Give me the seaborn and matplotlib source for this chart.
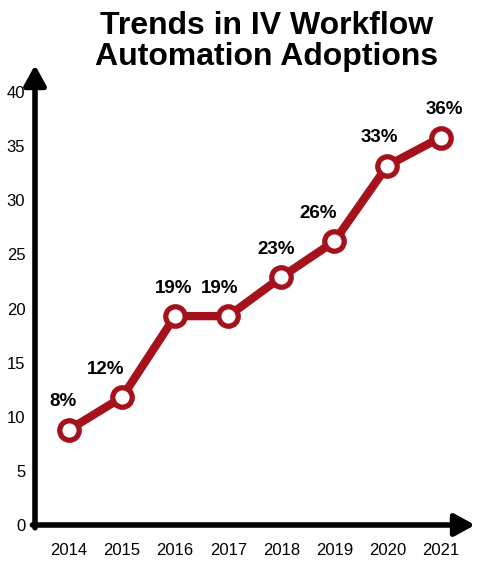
import matplotlib
matplotlib.use("Agg")
import matplotlib.pyplot as plt
import seaborn as sns
import pandas as pd

# Data
years = ["2014", "2015", "2016", "2017", "2018", "2019", "2020", "2021"]
adoption = [8.8, 11.8, 19.3, 19.3, 22.9, 26.2, 33.2, 35.8]
labels = ["8%", "12%", "19%", "19%", "23%", "26%", "33%", "36%"]
yticks = [0, 5, 10, 15, 20, 25, 30, 35, 40]

# small horizontal nudges for the value labels (points)
label_dx = [-4, -12, -1, -6, -4, -12, -6, 3]

df = pd.DataFrame({"year": years, "adoption": adoption})
df["x"] = range(len(df))

sns.set_theme(style="white")
plt.rcParams["font.family"] = ["Liberation Sans Narrow", "Liberation Sans", "DejaVu Sans"]
plt.rcParams["text.color"] = "black"

red = "#A5121C"

fig = plt.figure(figsize=(4.86, 5.66), dpi=100)
ax = fig.add_axes([35 / 486, 1 - 525 / 566, (475 - 35) / 486, (525 - 65) / 566])

sns.lineplot(data=df, x="x", y="adoption", ax=ax, color=red, linewidth=6,
             marker="o", markersize=14, markerfacecolor="white",
             markeredgecolor=red, markeredgewidth=3.8, zorder=3)

for i, (v, lab) in enumerate(zip(adoption, labels)):
    ax.annotate(lab, (i, v), xytext=(label_dx[i], 20), textcoords="offset points",
                ha="center", va="center", fontsize=13.5, fontweight="bold",
                color="black")

ax.set_xlim(-0.64, 7.65)
ax.set_ylim(0, 42.5)
ax.set_xticks(df["x"])
ax.set_xticklabels(years)
ax.set_yticks(yticks)
ax.set_xlabel("")
ax.set_ylabel("")
ax.tick_params(axis="both", length=0, labelsize=12, colors="black")
ax.tick_params(axis="x", pad=13)
ax.tick_params(axis="y", pad=7)
for s in ax.spines.values():
    s.set_visible(False)

# axes with arrow heads
arrow = dict(arrowstyle="-|>,head_length=1.0,head_width=0.55", lw=4,
             color="black", shrinkA=0, shrinkB=0)
ax.annotate("", xy=(1, 0), xytext=(-0.006, 0), xycoords="axes fraction",
            arrowprops=arrow, annotation_clip=False)
ax.annotate("", xy=(0, 1), xytext=(0, -0.006), xycoords="axes fraction",
            arrowprops=arrow, annotation_clip=False)

fig.text(0.548, 0.927, "Trends in IV Workflow\nAutomation Adoptions",
         ha="center", va="center", fontsize=23, fontweight="heavy",
         family=["Liberation Sans", "DejaVu Sans"], linespacing=1.05,
         color="black")

fig.savefig("out.png", dpi=100)
